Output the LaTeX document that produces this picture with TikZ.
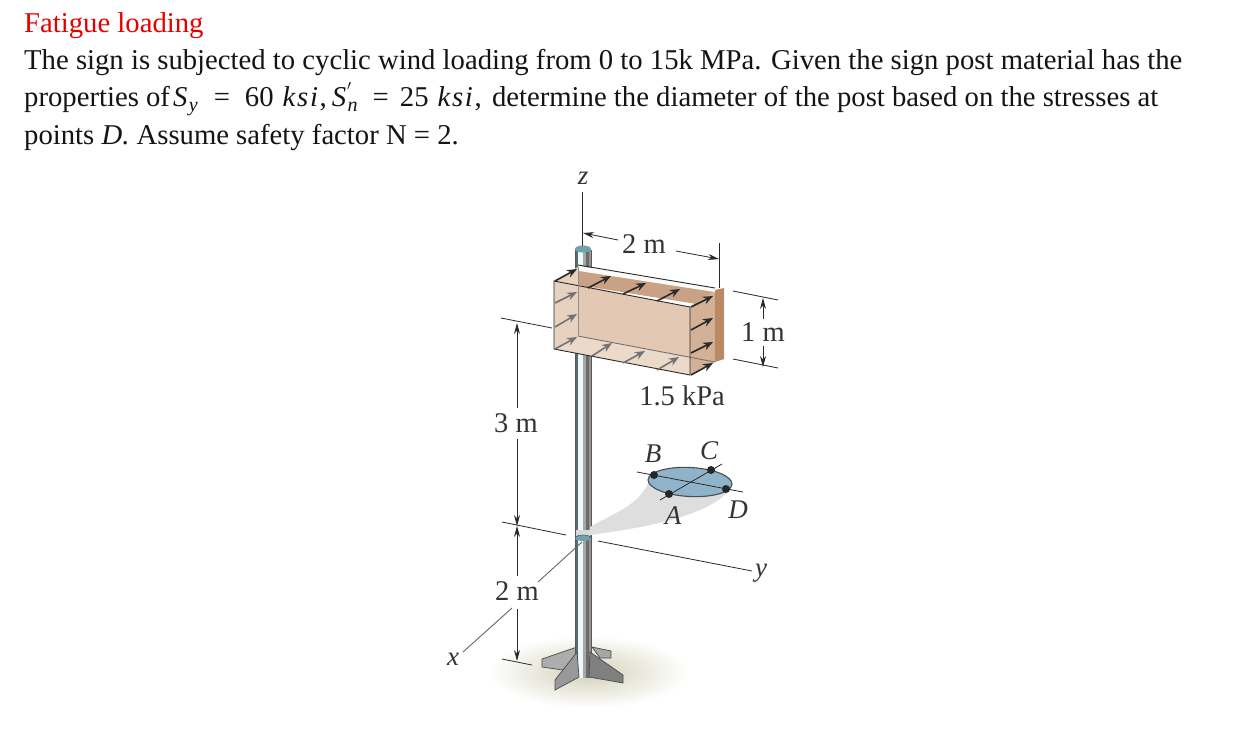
\documentclass[tikz,border=0pt]{standalone}
\usepackage{fontspec}
\setmainfont{Liberation Serif}
\usetikzlibrary{arrows.meta}
\newcommand{\subl}[1]{\hspace{1.5pt}\raisebox{-5pt}{\fontsize{20}{20}\selectfont\textit{#1}}}
\newcommand{\ksi}{{\addfontfeature{LetterSpace=6}\textit{ksi}}}
\definecolor{signface}{HTML}{E3C9B4}
\definecolor{signback}{HTML}{C9A184}
\definecolor{signedge}{HTML}{B98A63}
\definecolor{ink}{HTML}{2A2A2A}
\definecolor{disk}{HTML}{8FB3C9}
\definecolor{ground}{HTML}{D2D0B8}
\definecolor{capcol}{HTML}{6FA3AC}
\tikzset{
 x=1pt,y=-1pt,
 line/.style={draw=ink,line width=0.9pt},
 dimline/.style={draw=ink,line width=0.8pt,-{Stealth[length=11pt,width=6pt]}},
 wind/.style={draw=ink,line width=1.6pt,-{Stealth[length=10pt,width=8pt]}},
 windgrey/.style={draw=black!55,line width=1.6pt,-{Stealth[length=10pt,width=8pt]}},
 txt/.style={anchor=base west,inner sep=0pt,font=\fontsize{28.7}{30}\selectfont,text=black!92},
 lab/.style={inner sep=0pt,font=\fontsize{28.5}{30}\selectfont,text=black!80},
 ilab/.style={inner sep=0pt,font=\fontsize{27}{30}\selectfont\itshape,text=black!80},
 point/.style={circle,fill=black!85,inner sep=0pt,minimum size=8pt},
 fin/.style={draw=black!70,line width=0.7pt},
}
\begin{document}
\begin{tikzpicture}
\useasboundingbox (0,0) rectangle (1238,734);
\fill[white] (0,0) rectangle (1238,734);
% text
\node[txt,text=red!90!black] (t0) at (24,32) {Fatigue loading};
\node[txt] (t1) at (24,69) {The sign is subjected to cyclic wind loading from 0 to 15k MPa. Given the sign post material has the};
\node[txt] (t2) at (24,106) {properties of\hspace{3pt}\textit{S}\subl{y}\hspace{16pt}=\hspace{15pt}60\hspace{9pt}\ksi,\hspace{5pt}\textit{S}\rlap{\raisebox{8pt}{\hspace{1pt}\fontsize{20}{20}\selectfont$'$}}\subl{n}\hspace{15pt}=\hspace{11pt}25\hspace{9pt}\ksi,\hspace{3pt} determine the diameter of the post based on the stresses at};
\node[txt] (t3) at (24,144) {points \textit{D.} Assume safety factor N = 2.};
% ground shadow
\shade[inner color=ground,outer color=white] (588,672) ellipse [x radius=100,y radius=36];
% base back fins
\filldraw[fin,fill=black!35] (592,647) -- (611,651) -- (611,658) -- (600,658) -- cycle;
\filldraw[fin,fill=black!32] (577,647) -- (542,659) -- (542,667) -- (563,670) -- (577,660) -- cycle;
% post
\fill[black!55!teal!30!gray] (575,250) rectangle (578,678);
\fill[cyan!8!white] (578,250) rectangle (583,678);
\fill[black!35] (583,250) rectangle (586,678);
\fill[black!58] (586,250) rectangle (589,678);
\fill[black!42] (589,250) rectangle (591,678);
\draw[black!65,line width=0.6pt] (575,250) -- (575,678) (591,250) -- (591,678);
\fill[capcol] (583,249) ellipse [x radius=8,y radius=3.5];
% base front fins
\filldraw[fin,fill=black!40] (577,652) -- (555,680) -- (555,690) -- (579,677) -- cycle;
\filldraw[fin,fill=black!50] (590,652) -- (623,675) -- (623,683) -- (589,677) -- cycle;
% sign
\fill[signback] (578,267) -- (715,290) -- (715,307) -- (578,285) -- cycle;
\fill[signface!85!white] (554,281) -- (578,267) -- (578,336) -- (554,349) -- cycle;
\fill[signface] (578,285) -- (690,307) -- (690,375) -- (578,336) -- cycle;
\fill[signface!70!white] (554,349) -- (578,336) -- (715,362) -- (690,375) -- cycle;
\fill[signback!60!signface] (690,307) -- (715,290) -- (715,362) -- (690,375) -- cycle;
\fill[white!92!signface] (579,266) -- (715,287) -- (715,292) -- (579,271) -- cycle;
\fill[signedge] (715,290) -- (724,288) -- (724,359) -- (715,362) -- cycle;
\draw[line] (578,265) -- (715,288);
\draw[line,black!55] (578,336) -- (715,362);
\draw[line] (554,349) -- (690,375) -- (690,307) -- (554,281) -- (554,349);
\draw[line,black!45] (578,267) -- (578,336);
% wind arrows
\foreach \xa/\ya/\xb/\yb in {555/281/577/269,588/288/611/276,623/294/646/283,657/301/680/289,691/307/713/296,691/330/713/318,691/353/713/342,691/375/713/363}{\draw[wind] (\xa,\ya) -- (\xb,\yb);}
\foreach \xa/\ya/\xb/\yb in {555/303/577/292,555/327/577/314,555/349/577/337,592/356/612/343,623/363/645/351,657/370/679/357}{\draw[windgrey] (\xa,\ya) -- (\xb,\yb);}
% section funnel
\fill[black!13] (648,483) .. controls (640,505) and (610,515) .. (590,527) -- (590,535) .. controls (640,528) and (705,518) .. (730,490) -- cycle;
\fill[white!85!black] (576,530) rectangle (590,536);
\fill[capcol] (583,538) ellipse [x radius=8,y radius=3];
\draw[black!70,line width=0.5pt] (575,538) arc[start angle=180,end angle=360,x radius=8,y radius=3];
% section disk
\filldraw[fill=disk,draw=black!70,line width=1.1pt,rotate around={-3:(690,482)}] (690,482) ellipse [x radius=42,y radius=14.5];
\coordinate (bdl) at (637,472); \coordinate (bdr) at (743,492);
\coordinate (acl) at (660,500); \coordinate (acr) at (722,464);
\draw[line,line width=0.8pt] (bdl) -- (bdr);
\draw[line,line width=0.8pt] (acl) -- (acr);
\node[point] (ptB) at (654,475) {};
\node[point] (ptD) at (726,489) {};
\node[point] (ptC) at (711,470) {};
\node[point] (ptA) at (669,494) {};
\node[ilab] (lB) at (653,454) {B};
\node[ilab] (lC) at (709,451) {C};
\node[ilab] (lA) at (673,516) {A};
\node[ilab] (lD) at (738,510) {D};
% axes
\node[ilab] (lz) at (583,178) {z};
\coordinate (ztop) at (582,192); \coordinate (zbot) at (582,246);
\draw[line] (ztop) -- (zbot);
\coordinate (o) at (598,541); \coordinate (yend) at (752,571);
\draw[line,line width=0.8pt] (o) -- (yend);
\node[ilab] (ly) at (761,573) {y};
\coordinate (oo) at (582,542); \coordinate (x1) at (538,582);
\draw[line,black!60] (oo) -- (x1);
\coordinate (x2) at (512,608); \coordinate (x3) at (463,652);
\draw[line,black!60] (x2) -- (x3);
\node[ilab] (lx) at (453,659) {x};
% dimension ticks
\coordinate (ta) at (501,318); \coordinate (tb) at (552,328);
\draw[line,line width=0.8pt] (ta) -- (tb);
\coordinate (tc) at (502,522); \coordinate (td) at (566,535);
\draw[line,line width=0.8pt] (tc) -- (td);
\coordinate (te) at (502,659); \coordinate (tf) at (532,665);
\draw[line,line width=0.8pt] (te) -- (tf);
% 3 m
\node[lab] (l3) at (516,423) {3 m};
\coordinate (d3a) at (517,408); \coordinate (d3b) at (517,323);
\coordinate (d3c) at (517,439); \coordinate (d3d) at (517,526);
\draw[dimline] (d3a) -- (d3b);
\draw[dimline] (d3c) -- (d3d);
% 2 m lower
\node[lab] (l2) at (517,591) {2 m};
\coordinate (d2a) at (517,576); \coordinate (d2b) at (517,526);
\coordinate (d2c) at (517,609); \coordinate (d2d) at (517,661);
\draw[dimline] (d2a) -- (d2b);
\draw[dimline] (d2c) -- (d2d);
% 2 m upper
\node[lab] (l2t) at (644,244) {2 m};
\coordinate (h1) at (618,240); \coordinate (h2) at (583,233);
\coordinate (h3) at (676,251); \coordinate (h4) at (719,259);
\draw[dimline] (h1) -- (h2);
\draw[dimline] (h3) -- (h4);
\coordinate (v1) at (719,243); \coordinate (v2) at (719,288);
\draw[line] (v1) -- (v2);
% 1 m
\coordinate (r1) at (733,291); \coordinate (r2) at (778,300);
\coordinate (r3) at (733,359); \coordinate (r4) at (778,368);
\draw[line,line width=0.8pt] (r1) -- (r2);
\draw[line,line width=0.8pt] (r3) -- (r4);
\node[lab] (l1) at (763,332) {1 m};
\coordinate (u1) at (763,319); \coordinate (u2) at (763,298);
\coordinate (u3) at (763,346); \coordinate (u4) at (763,367);
\draw[dimline] (u1) -- (u2);
\draw[dimline] (u3) -- (u4);
% load
\node[lab] (lp) at (682,396) {1.5 kPa};
\end{tikzpicture}
\end{document}
